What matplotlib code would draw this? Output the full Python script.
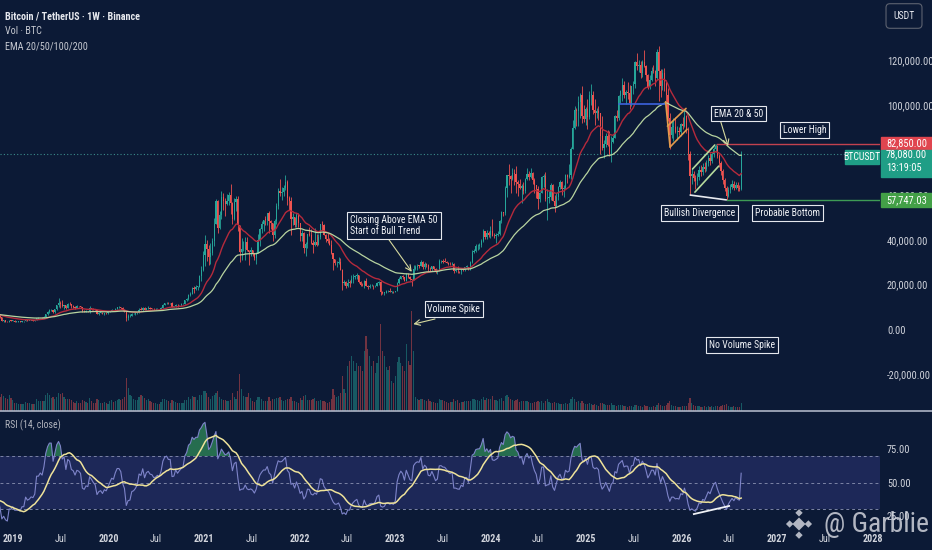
import numpy as np
import pandas as pd
import matplotlib
matplotlib.use('Agg')
import matplotlib.pyplot as plt
import matplotlib.dates as mdates
import matplotlib.transforms as mtransforms
from matplotlib import font_manager as fm
from matplotlib.patches import Rectangle
from matplotlib.lines import Line2D

# pick a narrow face if one is installed (TradingView text is condensed)
narrow_face = None
for pref in ['Liberation Sans Narrow', 'Roboto Condensed', 'DejaVu Sans', 'Noto Sans', 'Open Sans']:
    for f in fm.fontManager.ttflist:
        st = str(f.stretch)
        if f.name == pref and ('Narrow' in f.name or 'ondensed' in st or 'Condensed' in f.fname
                               or (st.isdigit() and int(st) < 500)):
            narrow_face = pref
            break
    if narrow_face:
        break
if narrow_face:
    plt.rcParams['font.family'] = [narrow_face, 'DejaVu Sans']
    if narrow_face != 'Liberation Sans Narrow':
        plt.rcParams['font.stretch'] = 'condensed'
    FS = 1.0
else:
    plt.rcParams['font.family'] = ['Liberation Sans', 'DejaVu Sans']
    FS = 0.88

# weekly BTCUSDT candles, thousand USDT, first week starts 2018-06-04
first_open = 7.50
close_2018 = [6.75, 6.45, 6.10, 6.35, 6.75, 6.35, 7.40, 8.20, 7.00, 6.30, 6.40, 6.70, 7.25, 6.25, 6.50, 6.70,
              6.60, 6.55, 6.30, 6.45, 6.40, 6.40, 6.35, 5.60, 3.95, 4.10, 3.45, 3.20, 3.90, 3.85, 4.00]
high_2018 = [7.75, 6.80, 6.80, 6.50, 6.85, 6.80, 7.50, 8.50, 8.25, 7.15, 6.60, 6.85, 7.40, 7.40, 6.60, 6.80,
             6.85, 6.70, 6.65, 6.80, 6.55, 6.50, 6.55, 6.40, 5.65, 4.40, 4.30, 3.60, 4.25, 4.25, 4.10]
low_2018 = [6.65, 6.10, 5.90, 5.75, 6.20, 6.10, 6.30, 7.30, 6.90, 5.90, 5.90, 6.25, 6.65, 6.10, 6.20, 6.10,
            6.40, 6.50, 6.10, 6.30, 6.35, 6.25, 6.30, 5.30, 3.65, 3.55, 3.30, 3.15, 3.20, 3.65, 3.75]
vol_2018 = [620, 640, 700, 560, 520, 540, 720, 800, 700, 650, 560, 520, 560, 640, 500, 520,
            430, 420, 460, 400, 380, 390, 420, 700, 850, 750, 650, 620, 780, 640, 560]

close_2019 = [3.55, 3.55, 3.55, 3.45, 3.65, 3.65, 4.10, 3.85, 3.90, 4.00, 3.95, 4.10, 5.05, 5.05, 5.25, 5.15, 5.70,
              7.00, 8.00, 8.70, 8.70, 7.65, 8.95, 10.80, 11.80, 11.45, 10.30, 10.75, 9.45, 11.50, 11.30, 10.30, 10.15,
              9.60, 10.40, 10.30, 10.05, 8.05, 7.85, 8.30, 8.20, 9.55, 9.20, 8.80, 8.50, 7.05, 7.40, 7.50, 7.10, 7.50,
              7.35, 7.75]
high_2019 = [4.05, 3.70, 3.65, 3.60, 3.70, 3.70, 4.20, 4.00, 3.95, 4.00, 4.10, 4.15, 5.30, 5.45, 5.35, 5.60, 5.80,
             7.10, 8.35, 8.95, 9.10, 8.80, 9.00, 11.00, 13.90, 12.80, 13.20, 11.10, 10.70, 11.80, 12.30, 11.45, 10.95,
             10.40, 10.90, 10.45, 10.35, 10.10, 8.50, 8.80, 8.40, 10.35, 9.80, 9.50, 8.90, 8.55, 7.90, 7.75, 7.60,
             7.55, 7.70, 7.80]
low_2019 = [3.45, 3.50, 3.45, 3.35, 3.40, 3.55, 3.60, 3.75, 3.70, 3.80, 3.90, 3.90, 4.10, 4.90, 4.95, 4.95, 5.05,
            5.60, 6.60, 7.50, 8.40, 7.45, 7.50, 8.90, 10.20, 9.60, 9.85, 9.10, 9.15, 9.40, 11.10, 9.45, 9.75, 9.35,
            9.55, 9.90, 9.75, 7.70, 7.75, 7.85, 7.85, 7.30, 8.90, 8.70, 8.40, 6.80, 6.55, 7.30, 6.95, 6.40, 7.10, 6.85]
vol_2019 = [420, 380, 360, 350, 340, 330, 460, 420, 380, 360, 330, 340, 620, 520, 480, 500, 520, 780, 880, 800,
            640, 700, 620, 720, 900, 860, 880, 720, 620, 600, 580, 540, 460, 420, 480, 400, 380, 560, 520, 460,
            420, 640, 500, 420, 400, 620, 560, 420, 380, 460, 380, 360]

close_2020 = [8.20, 8.70, 8.60, 9.35, 9.90, 9.90, 9.65, 8.55, 8.00, 5.35, 5.85, 5.90, 6.80, 6.90, 7.15, 7.55, 8.90,
              8.75, 9.70, 8.70, 9.45, 9.65, 9.35, 9.30, 9.00, 9.05, 9.25, 9.15, 9.70, 11.05, 11.70, 11.90, 11.65,
              11.65, 10.25, 10.30, 11.05, 10.75, 11.05, 11.30, 11.50, 13.10, 13.75, 15.50, 16.00, 18.40, 18.20,
              19.15, 19.15, 23.80, 26.45, 33.00]
high_2020 = [8.45, 9.20, 8.75, 9.60, 9.95, 10.50, 10.15, 9.95, 9.20, 8.20, 6.90, 6.95, 7.20, 7.45, 7.30, 7.80, 9.50,
             10.05, 9.95, 9.90, 9.65, 10.40, 9.95, 9.60, 9.80, 9.40, 9.50, 9.30, 9.95, 11.45, 11.90, 12.10, 12.45,
             11.75, 12.05, 10.70, 11.15, 11.20, 11.10, 11.65, 11.70, 13.35, 14.10, 15.95, 16.50, 18.80, 19.45,
             19.90, 19.50, 24.30, 28.40, 34.80]
low_2020 = [7.70, 8.05, 8.25, 8.55, 9.15, 9.70, 9.30, 8.40, 7.85, 3.80, 4.45, 5.70, 5.85, 6.75, 6.60, 6.80, 7.60,
            8.60, 8.20, 8.60, 8.65, 9.35, 9.10, 9.10, 8.85, 8.90, 9.05, 9.00, 9.20, 9.60, 10.90, 11.20, 11.45,
            11.15, 10.00, 9.90, 10.20, 10.15, 10.55, 10.55, 11.20, 11.40, 12.85, 13.25, 14.85, 15.95, 16.35,
            17.60, 17.60, 19.05, 21.80, 26.10]
vol_2020 = [480, 560, 440, 520, 560, 600, 560, 620, 700, 1650, 1150, 800, 760, 620, 560, 540, 720, 820, 760, 640,
            560, 600, 520, 440, 400, 380, 360, 340, 440, 620, 600, 560, 480, 420, 560, 520, 460, 420, 380, 400,
            420, 560, 560, 700, 620, 760, 680, 720, 560, 800, 820, 1000]

close_2021 = [38.15, 35.80, 32.25, 34.25, 39.25, 47.20, 57.40, 45.20, 50.95, 59.00, 57.35, 55.80, 57.05, 59.75,
              56.20, 49.10, 56.60, 58.20, 46.40, 34.65, 35.65, 35.80, 39.10, 35.50, 34.70, 35.30, 34.25, 31.80,
              34.25, 39.85, 44.60, 47.05, 48.90, 48.85, 51.75, 48.30, 47.25, 42.15, 48.20, 54.95, 61.50, 60.85,
              61.30, 63.25, 65.50, 58.60, 57.25, 49.40, 50.10, 46.65, 50.80, 47.30]
high_2021 = [41.95, 40.10, 37.85, 38.55, 40.95, 49.70, 58.35, 57.55, 52.65, 61.85, 61.00, 58.40, 60.20, 61.10,
             64.85, 57.00, 58.40, 59.60, 59.50, 46.00, 40.90, 39.50, 41.30, 41.40, 35.40, 36.60, 35.10, 34.10,
             34.50, 42.60, 45.30, 48.15, 49.00, 50.50, 51.90, 52.90, 48.85, 47.40, 49.30, 56.55, 62.95, 67.00,
             63.70, 64.25, 69.00, 66.40, 59.30, 59.05, 51.95, 50.00, 52.10, 52.10]
low_2021 = [28.10, 30.40, 28.85, 29.25, 33.40, 37.35, 47.05, 43.00, 45.00, 49.30, 53.20, 50.45, 55.40, 55.50,
            51.55, 47.05, 48.75, 53.00, 43.80, 30.00, 31.00, 34.80, 31.00, 34.80, 28.80, 32.70, 32.70, 31.15,
            29.30, 34.00, 37.35, 43.00, 43.95, 46.35, 46.50, 42.85, 44.70, 39.55, 40.75, 47.10, 53.90, 59.50,
            57.80, 59.40, 62.30, 55.60, 53.25, 42.00, 46.75, 45.55, 45.50, 45.65]
vol_2021 = [1000, 880, 700, 620, 760, 800, 900, 1000, 720, 620, 560, 560, 480, 480, 560, 900, 700, 620, 980,
            1850, 1100, 760, 720, 700, 900, 640, 480, 460, 560, 720, 700, 600, 520, 500, 520, 720, 520, 620, 600,
            640, 660, 680, 540, 500, 560, 620, 600, 720, 520, 500, 440, 400]

close_2022 = [41.85, 43.10, 36.25, 37.90, 42.40, 42.20, 38.40, 37.70, 38.80, 37.80, 41.30, 46.85, 46.40, 42.15,
              40.40, 39.45, 37.65, 34.30, 31.30, 29.45, 29.45, 29.90, 26.60, 20.55, 21.00, 19.30, 20.85, 20.80,
              22.45, 23.30, 23.90, 24.30, 21.15, 20.05, 19.80, 21.80, 19.40, 18.80, 19.30, 19.40, 19.20, 19.55,
              20.80, 21.15, 16.80, 16.30, 16.45, 17.10, 17.10, 16.75, 16.85, 16.60]
high_2022 = [47.50, 44.45, 43.50, 38.95, 42.65, 45.85, 44.75, 39.85, 45.40, 42.60, 42.35, 46.95, 48.20, 47.10,
             42.50, 42.95, 40.80, 40.00, 34.20, 31.35, 30.65, 32.40, 31.75, 26.90, 21.85, 21.55, 22.50, 21.85,
             24.30, 24.70, 24.20, 25.20, 24.45, 21.80, 20.55, 21.85, 22.80, 19.70, 20.35, 20.50, 19.95, 19.70,
             21.10, 21.45, 21.45, 17.20, 16.80, 17.40, 17.40, 18.40, 17.05, 16.95]
low_2022 = [39.65, 39.60, 34.00, 32.90, 36.25, 41.70, 37.95, 34.30, 37.15, 37.15, 37.55, 40.50, 44.20, 42.10,
            39.20, 38.50, 37.60, 33.70, 26.70, 28.65, 28.00, 29.30, 26.55, 17.60, 19.75, 18.60, 18.80, 18.90,
            20.75, 20.70, 22.40, 22.65, 20.75, 19.55, 19.50, 18.55, 19.30, 18.15, 18.50, 19.20, 18.20, 18.85,
            19.20, 20.05, 15.60, 15.80, 15.50, 16.05, 16.75, 16.55, 16.30, 16.35]
vol_2022 = [640, 560, 760, 780, 560, 540, 560, 600, 640, 520, 500, 560, 520, 480, 440, 420, 460, 620, 1100, 780,
            700, 760, 900, 1750, 1100, 900, 2250, 2500, 2750, 2500, 2000, 2400, 2250, 2250, 2000, 3000, 3750,
            3100, 2750, 2250, 2500, 1900, 2400, 2750, 4350, 3000, 2750, 2200, 2050, 2250, 1500, 1400]

close_2023 = [17.15, 20.85, 22.70, 23.75, 23.25, 21.80, 24.60, 23.55, 22.40, 22.15, 26.90, 27.95, 28.45, 28.35,
              30.30, 27.80, 29.25, 28.80, 26.90, 26.75, 28.10, 27.10, 25.90, 26.35, 30.50, 30.60, 30.30, 30.25,
              29.85, 29.30, 29.05, 29.40, 26.10, 26.10, 25.90, 25.85, 26.55, 26.30, 27.95, 27.95, 27.15, 29.95,
              34.50, 35.05, 37.05, 37.35, 37.45, 39.45, 43.80, 41.35, 43.00, 42.30]
high_2023 = [17.20, 21.25, 23.35, 23.95, 24.25, 23.45, 25.25, 25.00, 23.90, 22.60, 28.85, 28.85, 29.20, 28.80,
             31.00, 30.50, 30.00, 29.85, 29.00, 27.65, 28.25, 28.45, 27.40, 26.80, 31.40, 31.00, 31.50, 31.80,
             30.35, 29.95, 30.05, 30.25, 29.70, 26.80, 28.15, 26.10, 26.85, 27.50, 28.05, 28.60, 28.00, 30.35,
             35.25, 35.95, 38.00, 37.95, 38.40, 40.25, 44.70, 43.85, 44.40, 43.85]
low_2023 = [16.50, 17.10, 20.40, 22.30, 22.50, 21.45, 21.40, 22.75, 21.95, 19.55, 21.90, 26.55, 26.50, 27.20,
            28.35, 27.00, 26.95, 27.65, 25.80, 26.10, 25.90, 26.50, 25.35, 24.80, 26.25, 29.50, 29.70, 29.95,
            29.50, 28.90, 28.55, 28.70, 25.15, 25.80, 25.35, 25.40, 24.90, 26.00, 26.00, 27.20, 26.55, 26.55,
            29.50, 34.10, 34.50, 35.55, 35.65, 36.85, 39.00, 40.20, 40.50, 41.30]
vol_2023 = [1750, 2450, 2700, 2400, 2250, 2000, 3350, 2500, 2300, 5000, 3000, 700, 620, 560, 600, 620, 560, 520,
            580, 480, 460, 440, 420, 400, 620, 560, 540, 480, 440, 420, 460, 440, 620, 480, 560, 420, 460, 440,
            480, 500, 480, 520, 620, 580, 560, 540, 520, 600, 720, 560, 640, 580]

close_2024 = [43.95, 41.75, 41.60, 42.05, 42.60, 48.30, 52.15, 51.70, 63.10, 68.95, 68.40, 67.20, 69.60, 69.35,
              65.65, 64.95, 63.10, 63.90, 61.50, 66.95, 69.30, 67.75, 69.65, 66.65, 64.25, 62.70, 58.25, 60.80,
              68.15, 68.25, 58.15, 58.70, 58.90, 64.20, 57.30, 54.85, 59.10, 63.60, 65.60, 62.80, 62.85, 69.00,
              68.00, 68.75, 80.40, 89.90, 97.70, 97.20, 101.15, 104.45, 95.20, 93.70, 98.35]
high_2024 = [45.90, 49.05, 43.20, 42.85, 43.85, 48.60, 52.80, 52.55, 64.00, 69.00, 73.75, 68.90, 71.75, 71.30,
             72.80, 66.80, 67.25, 64.75, 65.50, 67.70, 71.95, 70.60, 72.00, 70.20, 67.30, 64.50, 63.80, 61.40,
             68.40, 69.40, 70.05, 62.75, 61.80, 65.10, 64.95, 59.80, 60.65, 64.15, 66.50, 66.00, 64.45, 69.50,
             69.50, 73.60, 81.50, 93.45, 99.60, 98.90, 104.00, 105.20, 108.35, 99.95, 99.00]
low_2024 = [40.75, 41.50, 40.60, 38.55, 41.85, 42.25, 47.65, 50.60, 50.90, 59.00, 64.50, 60.75, 66.80, 64.50,
            60.80, 59.60, 62.80, 56.55, 60.20, 60.75, 66.60, 66.60, 67.60, 65.05, 60.60, 58.40, 53.50, 56.60,
            60.80, 63.45, 57.10, 49.00, 56.15, 57.80, 57.20, 52.55, 54.60, 57.50, 62.70, 59.80, 58.90, 62.45,
            65.10, 67.50, 66.85, 80.20, 89.40, 90.80, 90.50, 94.20, 92.20, 92.50, 91.20]
vol_2024 = [620, 760, 560, 540, 480, 600, 640, 520, 760, 780, 700, 600, 540, 520, 560, 600, 460, 520, 480, 500,
            520, 460, 420, 400, 440, 460, 520, 440, 500, 420, 480, 620, 460, 420, 400, 440, 380, 400, 360, 340,
            340, 400, 360, 400, 620, 700, 600, 460, 480, 420, 500, 380, 360]

close_2025 = [94.50, 104.55, 104.70, 97.70, 96.45, 97.50, 96.30, 86.20, 80.70, 82.60, 86.10, 82.35, 78.20, 83.70,
              85.20, 95.30, 94.30, 104.10, 106.45, 109.00, 104.60, 105.70, 105.55, 100.85, 108.40, 109.20, 119.10,
              117.30, 117.95, 114.20, 119.30, 117.40, 113.50, 108.25, 111.15, 115.30, 115.25, 112.15, 123.50,
              115.10, 108.60, 114.50, 110.50, 104.70, 94.40, 86.80, 90.40, 90.40, 88.20, 88.50, 87.80, 91.50]
high_2025 = [102.70, 106.40, 109.60, 106.45, 102.50, 98.80, 99.50, 96.50, 95.00, 84.30, 87.45, 88.75, 88.50, 86.10,
             86.45, 95.75, 97.90, 104.35, 106.65, 111.95, 110.70, 106.80, 110.40, 108.95, 108.55, 110.60, 119.50,
             123.20, 120.25, 119.80, 120.00, 124.45, 117.65, 113.65, 113.40, 116.80, 117.90, 115.50, 125.00,
             126.20, 116.00, 116.00, 116.40, 111.20, 107.50, 96.60, 93.10, 94.15, 94.60, 90.60, 90.40, 91.95]
low_2025 = [89.25, 94.00, 100.10, 96.20, 91.20, 94.10, 93.35, 78.25, 80.00, 76.60, 81.20, 81.60, 77.15, 74.50,
            83.00, 85.15, 92.80, 93.40, 100.70, 102.00, 103.05, 100.30, 102.70, 98.20, 99.60, 105.10, 107.45,
            115.75, 114.70, 112.00, 112.70, 116.80, 110.60, 107.30, 107.25, 110.80, 114.40, 108.65, 111.00,
            102.00, 103.50, 106.65, 106.30, 98.95, 93.00, 80.60, 85.30, 83.80, 87.55, 84.50, 86.50, 86.40]
vol_2025 = [360, 400, 360, 320, 340, 280, 240, 420, 400, 340, 300, 280, 320, 420, 280, 300, 260, 300, 280, 300,
            260, 240, 220, 260, 240, 220, 300, 320, 260, 240, 220, 280, 260, 240, 220, 200, 240, 220, 300, 420,
            320, 260, 240, 300, 420, 480, 300, 260, 240, 220, 200, 180]

close_2026 = [90.50, 95.00, 89.50, 78.00, 68.50, 69.50, 67.50, 66.00, 68.00, 71.00, 70.00, 72.50, 71.50, 74.00,
              76.50, 75.00, 78.00, 80.50, 81.80, 77.50, 74.00, 70.50, 66.50, 63.00, 59.50, 62.00, 63.50, 64.80,
              63.00, 64.50, 63.20, 62.50, 78.08]
high_2026 = [94.80, 97.90, 95.50, 90.40, 79.50, 72.00, 70.50, 69.00, 69.80, 72.80, 73.50, 74.00, 74.50, 75.50,
             77.80, 78.50, 79.20, 81.50, 82.85, 82.00, 78.20, 75.00, 71.50, 67.50, 64.00, 63.50, 65.00, 66.50,
             66.00, 65.80, 65.50, 64.50, 79.50]
low_2026 = [89.30, 90.40, 87.60, 75.50, 59.90, 65.00, 66.00, 62.80, 64.50, 66.80, 68.50, 68.80, 70.00, 70.50,
            72.80, 73.50, 74.00, 77.00, 79.00, 76.50, 72.50, 69.00, 65.00, 61.50, 57.75, 59.00, 61.00, 62.50,
            62.00, 62.50, 61.80, 61.50, 62.00]
vol_2026 = [240, 260, 240, 420, 650, 380, 300, 260, 240, 260, 220, 200, 240, 220, 240, 200, 240, 220, 260, 240,
            220, 260, 280, 300, 340, 260, 220, 200, 240, 180, 200, 220, 380]

price_ticks = [-20000, 0, 20000, 40000, 60000, 100000, 120000]
rsi_ticks = [25, 50, 75]
last_price = 78080
lower_high = 82850
bottom_price = 57747.03

# text boxes: label, date, price (thousand)
box_notes = [
    ('Closing Above EMA 50\nStart of Bull Trend', '2022-12-28', 46.3),
    ('Volume Spike', '2023-08-14', 9.1),
    ('EMA 20 & 50', '2026-08-08', 96.2),
    ('Lower High', '2027-04-16', 88.9),
    ('Bullish Divergence', '2026-03-11', 51.9),
    ('Probable Bottom', '2027-02-09', 51.9),
    ('No Volume Spike', '2026-08-19', -6.9),
]
arrow_notes = [
    (('2022-12-05', 40.6), ('2023-03-06', 25.7)),
    (('2023-06-03', 4.7), ('2023-03-12', 2.4)),
    (('2026-05-30', 92.9), ('2026-06-28', 81.7)),
]
# drawn trend lines: (start, end, colour)
trend_lines = [
    (('2025-05-08', 100.6), ('2025-10-30', 100.6), '#3d63dd'),
    (('2025-11-01', 101.5), ('2025-11-18', 81.3), '#e39a4c'),
    (('2025-11-08', 90.6), ('2026-01-18', 98.5), '#e39a4c'),
    (('2025-11-18', 81.3), ('2026-01-22', 89.2), '#e39a4c'),
    (('2026-02-12', 71.5), ('2026-05-08', 82.2), '#b5d99c'),
    (('2026-02-21', 61.2), ('2026-05-23', 72.8), '#b5d99c'),
    (('2026-02-03', 59.9), ('2026-06-21', 57.75), '#e8eaf0'),
]
rsi_div = (('2026-02-17', 26.2), ('2026-07-02', 32.3))
lower_high_start = '2026-05-15'
bottom_start = '2026-06-24'

# ---- series ----
close = np.array(close_2018 + close_2019 + close_2020 + close_2021 + close_2022 + close_2023 + close_2024
                 + close_2025 + close_2026) * 1000
high = np.array(high_2018 + high_2019 + high_2020 + high_2021 + high_2022 + high_2023 + high_2024
                + high_2025 + high_2026) * 1000
low = np.array(low_2018 + low_2019 + low_2020 + low_2021 + low_2022 + low_2023 + low_2024
               + low_2025 + low_2026) * 1000
vol = np.array(vol_2018 + vol_2019 + vol_2020 + vol_2021 + vol_2022 + vol_2023 + vol_2024
               + vol_2025 + vol_2026, dtype=float)
dates = pd.date_range('2018-06-04', periods=len(close), freq='7D')
opn = np.r_[first_open * 1000, close[:-1]]
high = np.maximum(high, np.maximum(opn, close))
low = np.minimum(low, np.minimum(opn, close))

s = pd.Series(close)
ema20 = s.ewm(span=20, adjust=False).mean()
ema50 = s.ewm(span=50, adjust=False).mean()
d = s.diff()
gain = d.clip(lower=0).ewm(alpha=1 / 14, adjust=False).mean()
loss = (-d.clip(upper=0)).ewm(alpha=1 / 14, adjust=False).mean()
rsi = 100 - 100 / (1 + gain / loss)
rsi_ma = rsi.rolling(14).mean()

# ---- look ----
BG = '#0c1a36'
TXT = '#d1d4dc'
UP = '#26a69a'
DN = '#ef5350'
W, H = 932, 550
AXW = 880
x = mdates.date2num(dates)
x0 = mdates.date2num(pd.Timestamp('2018-11-12'))
x1 = mdates.date2num(pd.Timestamp('2028-01-30'))
ymin, ymax = -36300, 146800
ppx = (ymax - ymin) / 411.0

def dn(t):
    return mdates.date2num(pd.Timestamp(t))

fig = plt.figure(figsize=(W / 100, H / 100), dpi=100, facecolor=BG)
ax = fig.add_axes([0, 1 - 411 / H, AXW / W, 411 / H])
vax = ax.twinx()
ax.set_zorder(2)
vax.set_zorder(1)
ax.patch.set_visible(False)
vax.set_facecolor(BG)
ax.yaxis.tick_right()

up = close >= opn
cols = np.where(up, UP, DN)

# volume
vax.bar(x, vol, width=4.5, color=cols, alpha=0.45, lw=0)
vax.set_ylim(0, 5000 / 100 * 411)
vax.set_yticks([])
for sp in vax.spines.values():
    sp.set_visible(False)

# candles + emas
ax.vlines(x, low, high, colors=cols, lw=0.6, zorder=3)
ax.bar(x, np.maximum(np.abs(close - opn), 200), bottom=np.minimum(opn, close), width=4.5,
       color=cols, lw=0, zorder=3)
ax.plot(x, ema20, color='#b52a3c', lw=1.0, zorder=4)
ax.plot(x, ema50, color='#b8d4a0', lw=0.9, zorder=4)

ax.set_xlim(x0, x1)
ax.set_ylim(ymin, ymax)
for sp in ax.spines.values():
    sp.set_visible(False)
ax.tick_params(axis='x', bottom=False, labelbottom=False)
ax.set_yticks(price_ticks)
ax.set_yticklabels([f'{v:,.2f}' for v in price_ticks])
ax.tick_params(axis='y', length=0, pad=5, labelsize=7.5 * FS, labelcolor=TXT)

ax.axhline(last_price, color='#3a8c8a', lw=0.8, ls=(0, (1, 2)), zorder=2)
ax.plot([dn(lower_high_start), x1], [lower_high, lower_high], color='#c2424f', lw=1.0, zorder=4)
ax.plot([dn(bottom_start), x1], [bottom_price, bottom_price], color='#3e9b55', lw=1.0, zorder=4)

for (a, b, c) in trend_lines:
    ax.plot([dn(a[0]), dn(b[0])], [a[1] * 1000, b[1] * 1000], color=c, lw=1.2, zorder=5,
            solid_capstyle='round')

for (a, b) in arrow_notes:
    ax.annotate('', xy=(dn(b[0]), b[1] * 1000), xytext=(dn(a[0]), a[1] * 1000),
                arrowprops=dict(arrowstyle='->', color='#d6d99e', lw=0.8, shrinkA=0, shrinkB=0), zorder=5)

for (t, dt, p) in box_notes:
    ax.text(dn(dt), p * 1000, t, ha='center', va='center', fontsize=7 * FS, color='#f0f2f6',
            multialignment='left', zorder=7, linespacing=1.1,
            bbox=dict(boxstyle='square,pad=0.3', fc=BG, ec='#e6e8ee', lw=0.8))

# right-side price tags
blend = mtransforms.blended_transform_factory(ax.transAxes, ax.transData)

def tag(p_top, p_bot, xa, xb, color):
    ax.add_patch(Rectangle((xa / AXW, p_bot), (xb - xa) / AXW, p_top - p_bot, transform=blend,
                           color=color, clip_on=False, zorder=8))

def tag_text(xa, p, t):
    ax.text(xa / AXW, p, t, transform=blend, ha='left', va='center', fontsize=7.5 * FS, color='white',
            clip_on=False, zorder=9)

tag(lower_high + 7 * ppx, lower_high - 7 * ppx, 881, 932, '#e0454f')
tag_text(886, lower_high, f'{lower_high:,.2f}')
tag(last_price + 4 * ppx, last_price - 23 * ppx, 881, 932, '#1f9e86')
tag_text(886, last_price, f'{last_price:,.2f}')
tag_text(886, last_price - 14 * ppx, '13:19:05')
tag(last_price + 4 * ppx, last_price - 10 * ppx, 845, 879, '#1f9e86')
ax.text(862 / AXW, last_price - 3 * ppx, 'BTCUSDT', transform=blend, ha='center', va='center',
        fontsize=7 * FS, color='white', clip_on=False, zorder=9)
tag(bottom_price + 7 * ppx, bottom_price - 7 * ppx, 881, 932, '#43a047')
tag_text(886, bottom_price, f'{bottom_price:,.2f}')

# ---- RSI pane ----
rax = fig.add_axes([0, 26 / H, AXW / W, 113 / H], sharex=ax)
rax.set_facecolor(BG)
rax.axhspan(30, 70, color='#1d2858', lw=0, zorder=0)
for lv in (30, 50, 70):
    rax.axhline(lv, color='#7c84a6', lw=0.7, ls=(0, (3, 3)), zorder=1)
rax.fill_between(x, 70, rsi, where=rsi > 70, interpolate=True, color='#2f8a58', alpha=0.75, lw=0, zorder=2)
rax.plot(x, rsi, color='#7e84c9', lw=0.8, zorder=3)
rax.plot(x, rsi_ma, color='#efe39a', lw=1.1, zorder=4)
rax.plot([dn(rsi_div[0][0]), dn(rsi_div[1][0])], [rsi_div[0][1], rsi_div[1][1]], color='#f0f2f6', lw=1.3,
         zorder=5)
rax.set_ylim(18.7, 104)
rax.yaxis.tick_right()
rax.set_yticks(rsi_ticks)
rax.set_yticklabels([f'{v:.2f}' for v in rsi_ticks])
rax.tick_params(axis='y', length=0, pad=5, labelsize=7.5 * FS, labelcolor=TXT)
for sp in rax.spines.values():
    sp.set_visible(False)

tick_pos, tick_lab = [], []
for yr in range(2019, 2029):
    tick_pos += [dn(f'{yr}-01-01'), dn(f'{yr}-07-01')]
    tick_lab += [str(yr), 'Jul']
rax.set_xticks(tick_pos)
rax.set_xticklabels(tick_lab)
rax.tick_params(axis='x', length=0, pad=7, labelsize=7.2 * FS, labelcolor=TXT)
for lab in rax.get_xticklabels():
    if lab.get_text() != 'Jul':
        lab.set_fontweight('bold')
rax.set_xlim(x0, x1)
rax.text(5 / AXW, 0.87, 'RSI (14, close)', transform=rax.transAxes, fontsize=7 * FS, color='#b2b5be',
         va='center')

# pane separator
fig.add_artist(Line2D([0, 1], [1 - 411 / H] * 2, color='#aeb4c6', lw=1.2))

# header
fig.text(5 / W, 1 - 16 / H, 'Bitcoin / TetherUS · 1W · Binance', fontsize=7.3 * FS, fontweight='bold',
         color='#e6e8ee', va='center')
fig.text(5 / W, 1 - 31 / H, 'Vol · BTC', fontsize=7.3 * FS, color='#c5c8d0', va='center')
fig.text(5 / W, 1 - 46 / H, 'EMA 20/50/100/200', fontsize=7.3 * FS, color='#c5c8d0', va='center')
fig.text(904 / W, 1 - 16 / H, 'USDT', fontsize=7 * FS, color='#e6e8ee', ha='center', va='center',
         bbox=dict(boxstyle='round,pad=0.75,rounding_size=0.4', fc=BG, ec='#5d6270', lw=0.8))

# watermark
fig.text(929 / W, 1 - 524 / H, '@ Garblie', fontsize=20 * FS, color='#d0d3dc', alpha=0.85, ha='right',
         va='center')
lax = fig.add_axes([784 / W, 1 - 541 / H, 30 / W, 34 / H])
lax.set_axis_off()
lax.scatter([0, 0, 0, -1, 1], [0, 1.05, -1.05, 0, 0], marker='D', s=[44, 14, 14, 14, 14],
            color='#d0d3dc', alpha=0.85, lw=0)
lax.set_xlim(-1.6, 1.6)
lax.set_ylim(-1.6, 1.6)

fig.savefig('out.png', dpi=100, facecolor=BG)
